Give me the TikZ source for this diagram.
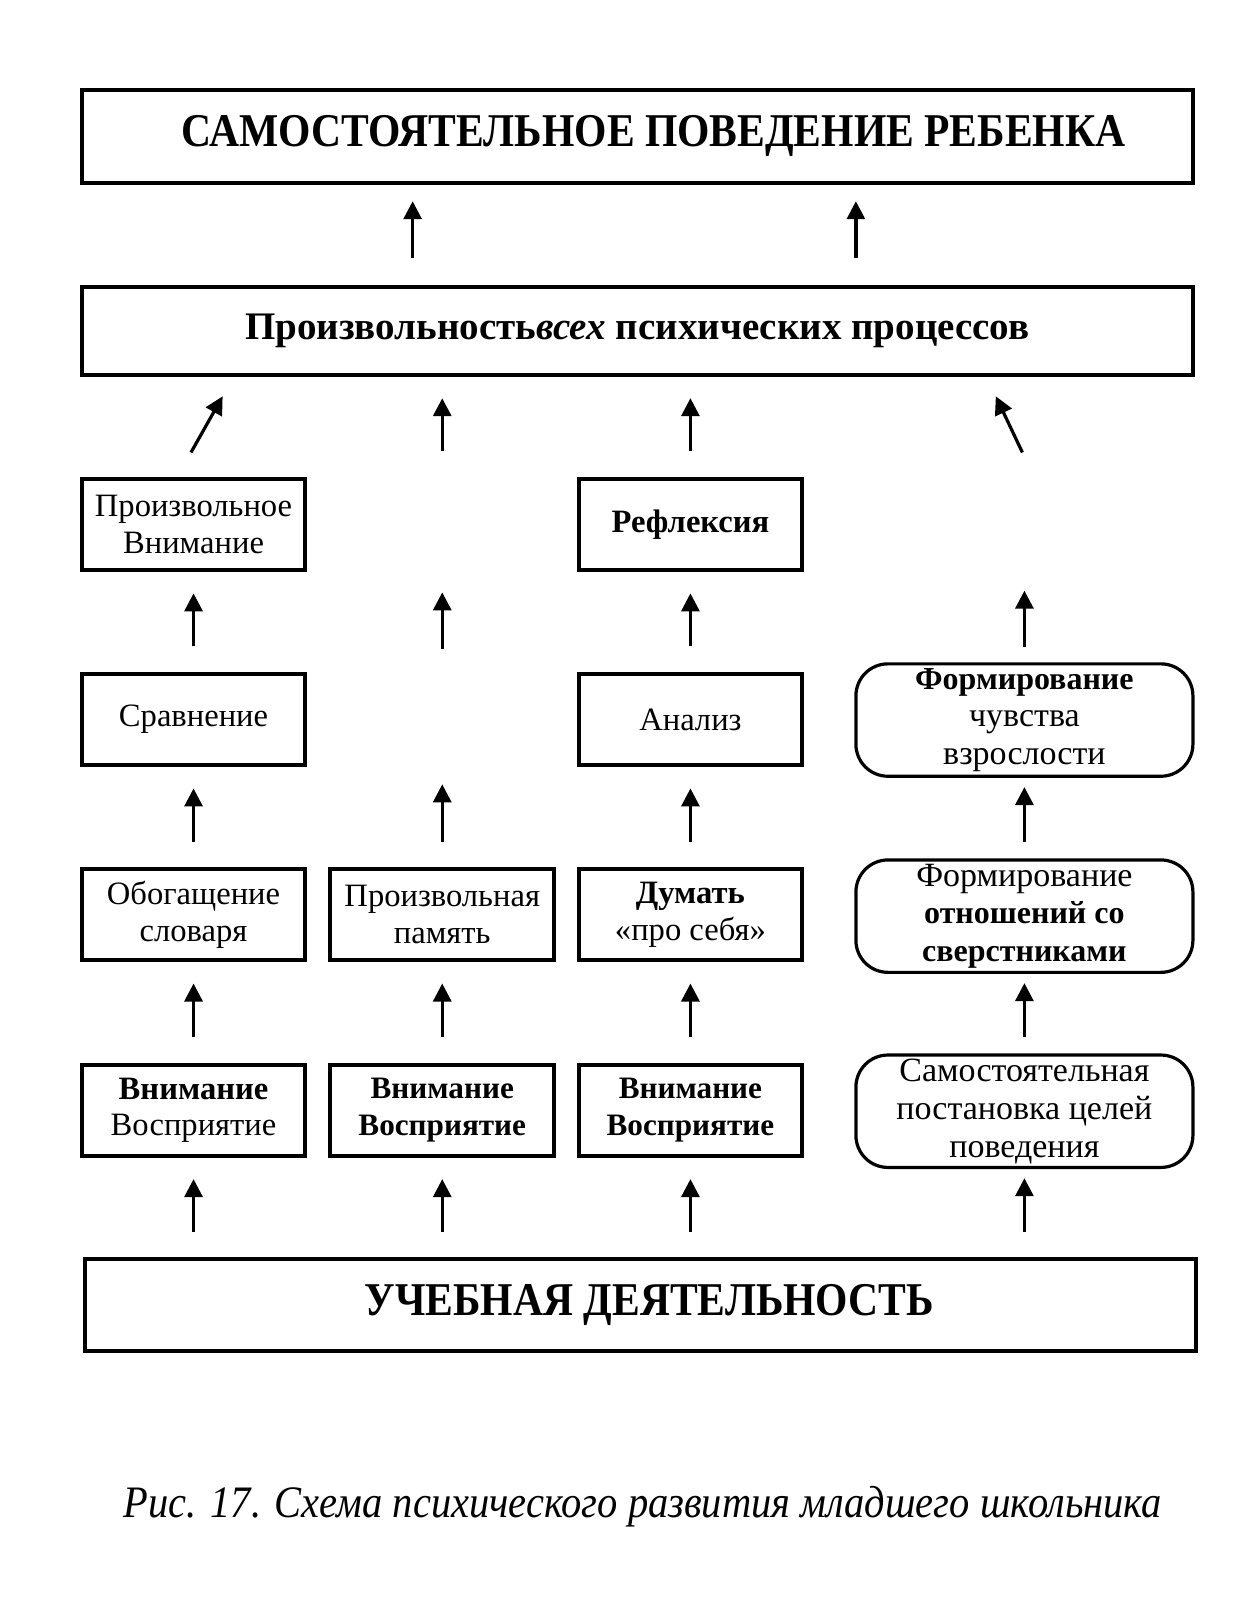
\documentclass[tikz,border=0pt]{standalone}
\usepackage{fontspec}
\setmainfont{Liberation Serif}
\newfontfamily\condfont[FakeStretch=0.885]{Liberation Serif}
\newfontfamily\capfont[FakeStretch=0.9]{Liberation Serif}
\usetikzlibrary{arrows.meta,calc}
\tikzset{
  box/.style={draw, line width=2pt, inner sep=0pt, align=center, minimum width=111.8pt, minimum height=45.5pt, font=\fontsize{16.3}{18.4}\selectfont},
  wide/.style={draw, line width=2pt, inner sep=0pt, align=center, minimum width=555.6pt},
  rbox/.style={draw, line width=1.6pt, rounded corners=16pt, inner sep=0pt, align=center, minimum width=168.5pt, minimum height=56.2pt, font=\fontsize{17}{18.9}\selectfont},
  arr/.style={line width=1.6pt, -{Triangle[length=9pt,width=9pt]}},
  up/.style={arr, shorten <=12.8pt, shorten >=10.7pt},
  up4/.style={arr, shorten <=8.2pt, shorten >=4.6pt}
}
\newcommand{\bl}[1]{{\bfseries\fontsize{16}{18.9}\selectfont #1}}
\begin{document}
\begin{tikzpicture}[x=0.5107pt,y=-0.5107pt]
\useasboundingbox (0,0) rectangle (1218,1569.5);
% wide boxes
\node[wide, minimum height=46.5pt, font=\condfont\bfseries\fontsize{23.5}{26}\selectfont] (top) at (624,133.5) {\hspace*{16pt}\raisebox{-1.5pt}{САМОСТОЯТЕЛЬНОЕ ПОВЕДЕНИЕ РЕБЕНКА}};
\node[wide, minimum height=43.9pt, font=\bfseries\fontsize{19.5}{21}\selectfont] (proc) at (624,324) {Произвольность\textit{всех} психических процессов};
\node[wide, minimum height=46pt, font=\condfont\bfseries\fontsize{23.5}{26}\selectfont] (ud) at (627,1278) {\hspace*{9pt}УЧЕБНАЯ ДЕЯТЕЛЬНОСТЬ};
% row A
\node[box] (a1) at (189.5,513.5) {Произвольное\\Внимание};
\node[box] (a3) at (676,513.5) {\bfseries Рефлексия};
% row B
\node[box] (b1) at (189.5,704.5) {Сравнение};
\node[box] (b3) at (676,704.5) {Анализ};
\node[rbox] (b4) at (1003,705) {\bl{Формирование}\\чувства\\взрослости};
% row C
\node[box] (c1) at (189.5,895.5) {Обогащение\\словаря};
\node[box] (c2) at (433,895.5) {Произвольная\\память};
\node[box] (c3) at (676,895.5) {{\bfseries Думать}\\«про себя»};
\node[rbox] (c4) at (1003,897) {Формирование\\\bl{отношений со}\\\bl{сверстниками}};
% row D
\node[box] (d1) at (189.5,1087) {{\bfseries Внимание}\\Восприятие};
\node[box, font=\bfseries\fontsize{15.6}{18.4}\selectfont] (d2) at (433,1087) {Внимание\\Восприятие};
\node[box, font=\bfseries\fontsize{15.6}{18.4}\selectfont] (d3) at (676,1087) {Внимание\\Восприятие};
\node[rbox] (d4) at (1003,1088) {Самостоятельная\\постановка целей\\поведения};
% caption
\node[font=\capfont\itshape\fontsize{22.5}{25}\selectfont] (cap) at (629.5,1475) {Рис. 17. Схема психического развития младшего школьника};
% empty cells and free ends
\coordinate (a2) at (433,513.5);
\coordinate (b2) at (433,704.5);
\coordinate (s1) at (187,443);
\coordinate (e1) at (218,388);
\coordinate (s4) at (1001,443);
\coordinate (e4) at (975,388);
\coordinate (t1) at (404,0);
\coordinate (t2) at (838,0);
% arrows bottom -> D
\draw[up] (ud.north -| d1.south) -- (d1.south);
\draw[up] (ud.north -| d2.south) -- (d2.south);
\draw[up] (ud.north -| d3.south) -- (d3.south);
\draw[arr, shorten <=12.8pt, shorten >=4.6pt] (ud.north -| d4.south) -- (d4.south);
% D -> C
\draw[up] (d1.north) -- (c1.south);
\draw[up] (d2.north) -- (c2.south);
\draw[up] (d3.north) -- (c3.south);
\draw[up4] (d4.north) -- (c4.south);
% C -> B
\draw[up] (c1.north) -- (b1.south);
\draw[arr] ([yshift=12.8pt]c2.north) -- ++(0,-56);
\draw[up] (c3.north) -- (b3.south);
\draw[up4] (c4.north) -- (b4.south);
% B -> A
\draw[up] (b1.north) -- (a1.south);
\draw[arr] ($(b2)+(0,-69.5)$) -- ++(0,-55);
\draw[up] (b3.north) -- (a3.south);
\draw[arr] ([yshift=7.7pt]b4.north) -- ++(0,-55);
% A -> proc
\draw[arr] (s1) -- (e1);
\draw[up] (a1.north -| a2) -- (proc.south -| a2);
\draw[up] (a3.north) -- (proc.south -| a3.north);
\draw[arr] (s4) -- (e4);
% proc -> top
\draw[arr, shorten <=13.3pt, shorten >=8.2pt] (proc.north -| t1) -- (top.south -| t1);
\draw[arr, shorten <=13.3pt, shorten >=8.2pt] (proc.north -| t2) -- (top.south -| t2);
\end{tikzpicture}
\end{document}
